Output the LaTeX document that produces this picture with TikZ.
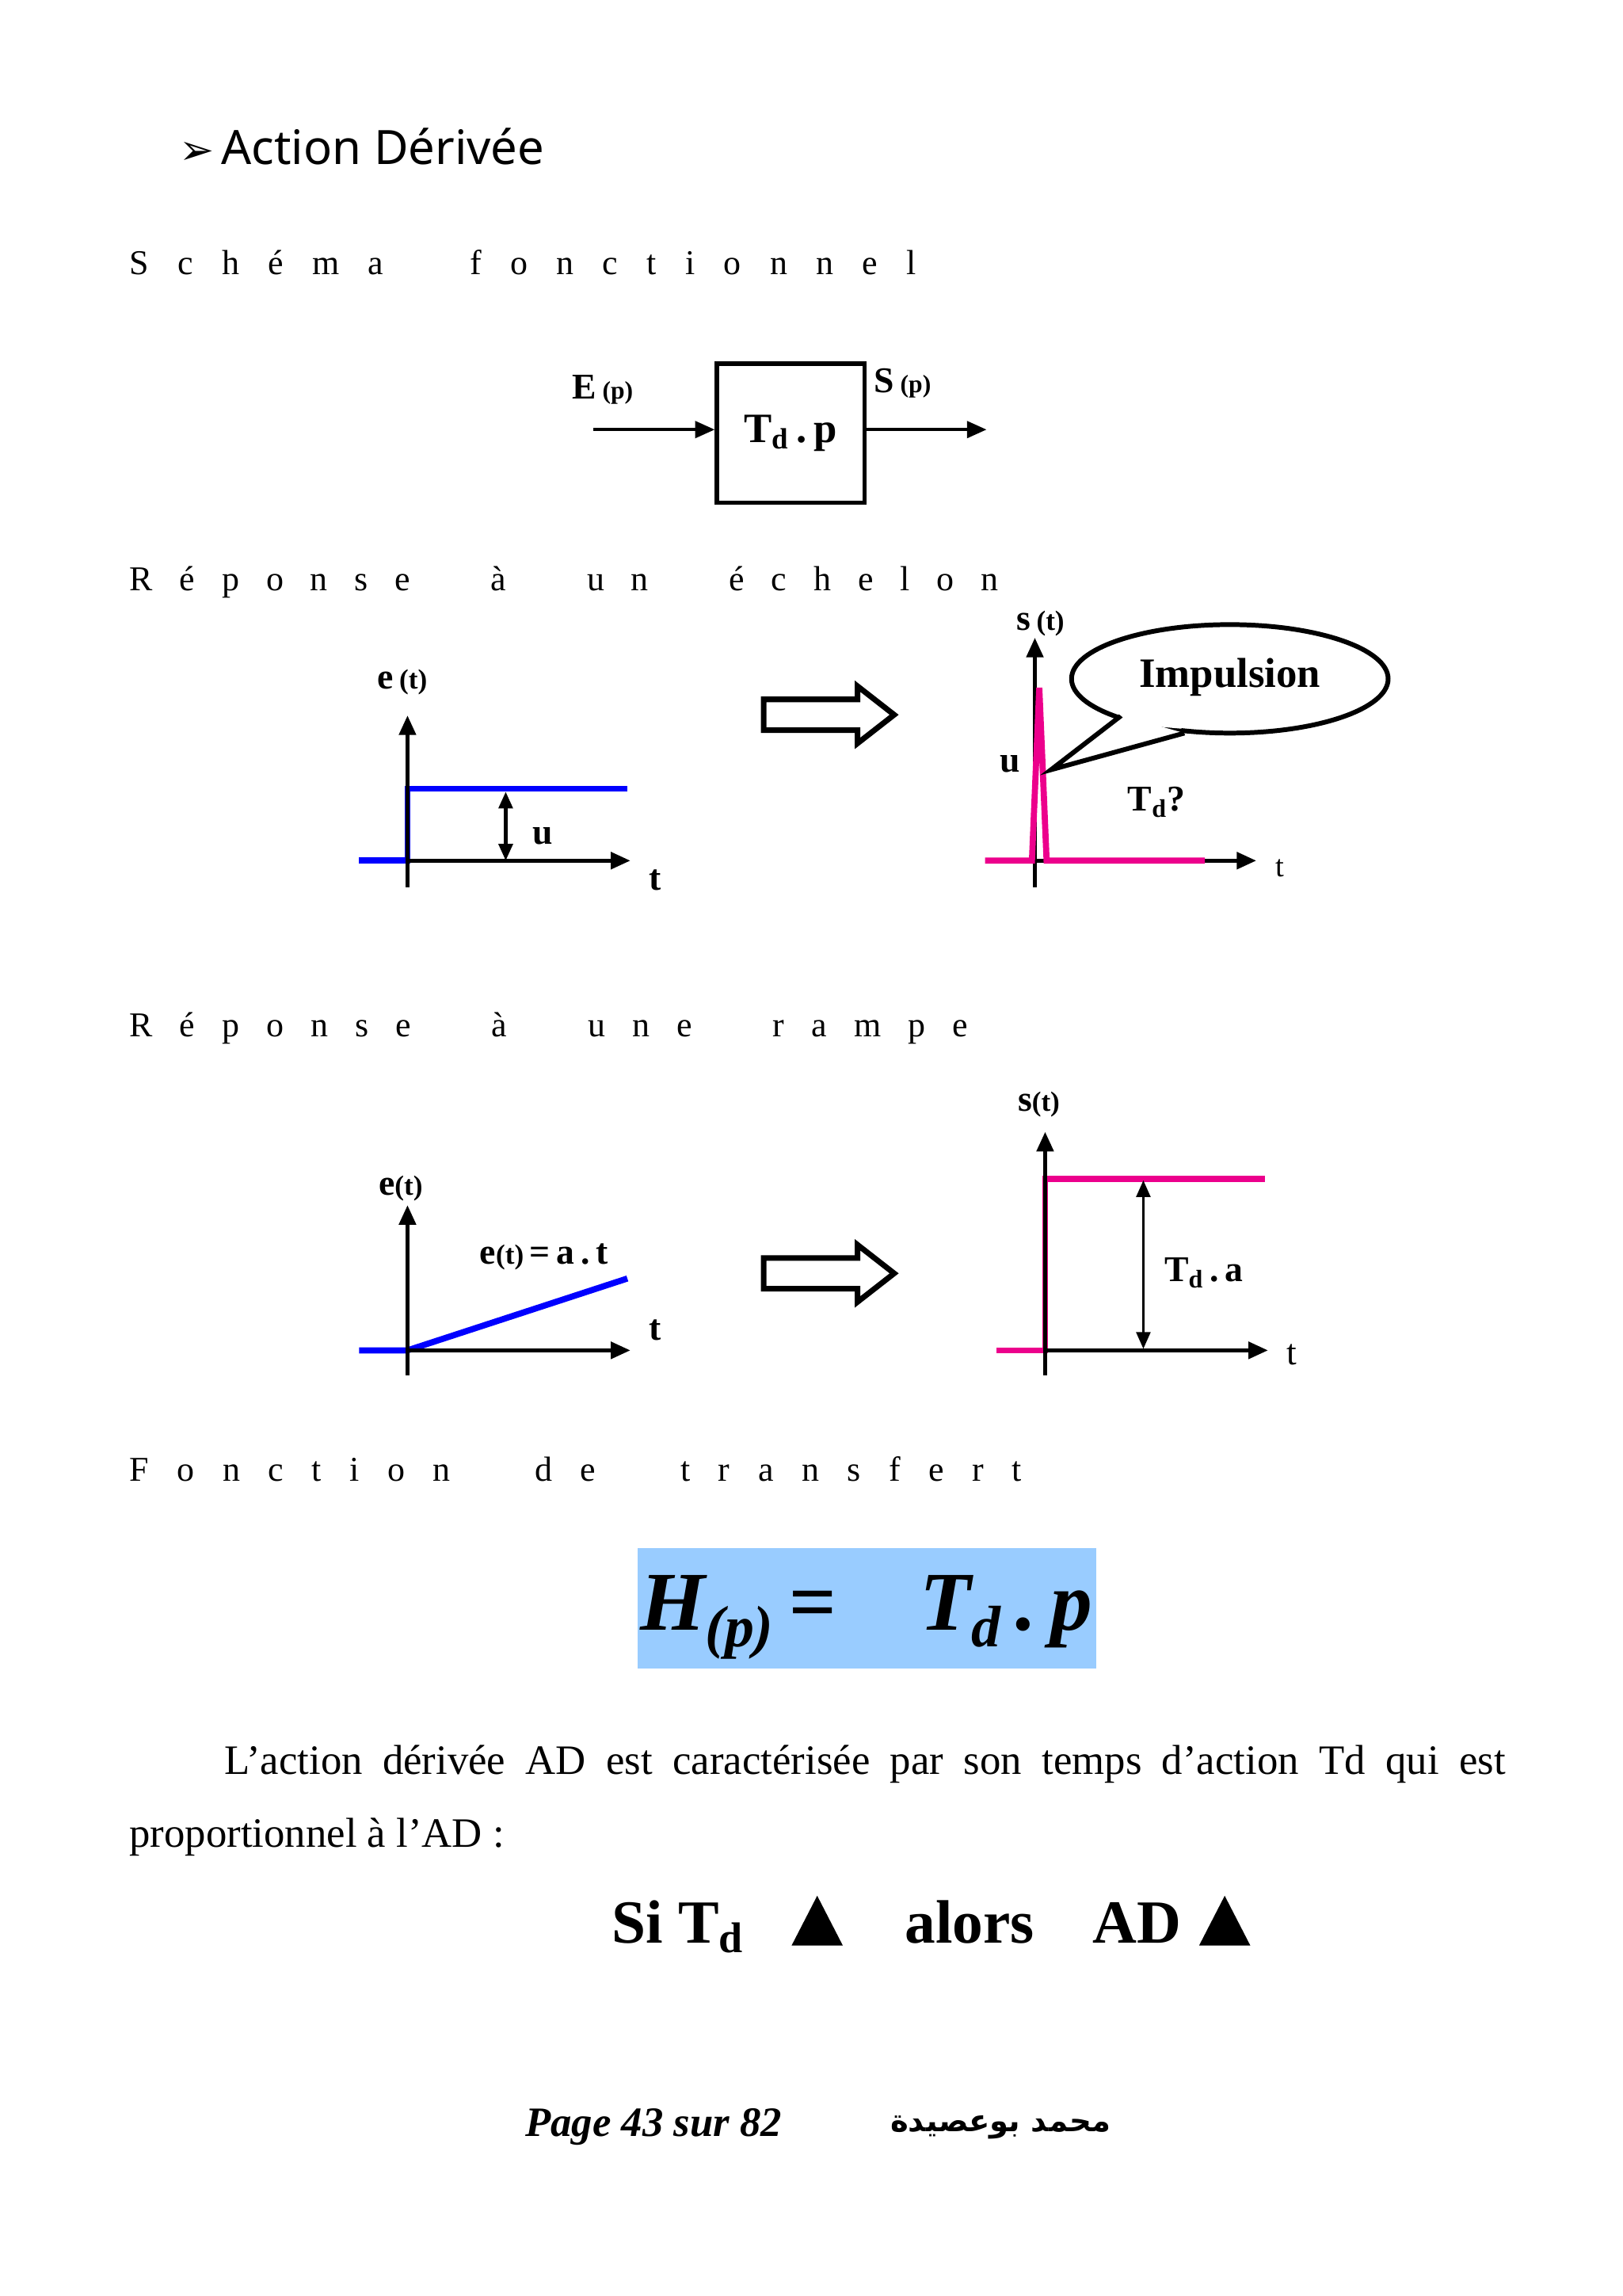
\documentclass[tikz,border=0pt]{standalone}
\usepackage{fontspec}
\setmainfont{Liberation Serif}
\newfontfamily\titlef{Noto Sans}
\newfontfamily\symf{DejaVu Sans}
\newfontfamily\arabf[Script=Arabic]{DejaVu Sans}
\usetikzlibrary{arrows.meta,shapes.geometric,shapes.callouts}
\newcommand{\sprd}[2]{\makebox[#1][s]{#2}}
\begin{document}
\begin{tikzpicture}[x=0.0185cm,y=-0.0185cm,
  ax/.style={line width=1.3pt,-{Triangle[length=7pt,width=6pt]}},
  blue1/.style={draw=blue,line width=2.2pt},
  mag/.style={draw=magenta,line width=2.2pt},
  lab/.style={font=\bfseries\fontsize{13}{13}\selectfont,inner sep=0pt},
  head/.style={anchor=base west,inner sep=0pt,font=\fontsize{12.5}{13}\selectfont},
  hol/.style={draw,line width=2pt,fill=white}]
\useasboundingbox (0,0) rectangle (1107,1566);
% title
\node[anchor=base west,inner sep=0pt] (tt) at (122,112) {{\symf\fontsize{15}{16}\selectfont ➢} {\titlef\bfseries\fontsize{17}{18}\selectfont Action Dérivée}};
% headings
\node[head] (h1) at (88,187) {\sprd{537\dimexpr0.526pt}{S\hfill c\hfill h\hfill é\hfill m\hfill a\hfill\hfill\hfill f\hfill o\hfill n\hfill c\hfill t\hfill i\hfill o\hfill n\hfill n\hfill e\hfill l}};
\node[head] (h2) at (88,403) {\sprd{593\dimexpr0.526pt}{R\hfill é\hfill p\hfill o\hfill n\hfill s\hfill e\hfill\hfill\hfill à\hfill\hfill\hfill u\hfill n\hfill\hfill\hfill é\hfill c\hfill h\hfill e\hfill l\hfill o\hfill n}};
\node[head] (h3) at (88,707) {\sprd{572\dimexpr0.526pt}{R\hfill é\hfill p\hfill o\hfill n\hfill s\hfill e\hfill\hfill\hfill à\hfill\hfill\hfill u\hfill n\hfill e\hfill\hfill\hfill r\hfill a\hfill m\hfill p\hfill e}};
\node[head] (h4) at (88,1010) {\sprd{609\dimexpr0.526pt}{F\hfill o\hfill n\hfill c\hfill t\hfill i\hfill o\hfill n\hfill\hfill\hfill d\hfill e\hfill\hfill\hfill t\hfill r\hfill a\hfill n\hfill s\hfill f\hfill e\hfill r\hfill t}};
% block diagram
\node[draw,line width=1.5pt,minimum width=101*0.0185cm,minimum height=95*0.0185cm,font=\bfseries\fontsize{15}{15}\selectfont] (blk) at (539.5,295.5) {T\textsubscript{d}\,.\,p};
\coordinate (in) at (405,293);
\coordinate (out) at (673,293);
\draw[ax,line width=1pt] (in) -- (in-|blk.west);
\draw[ax,line width=1pt] (blk.east|-out) -- (out);
\node[lab,anchor=base west] (E) at (390,272) {E\,{\fontsize{9}{9}\selectfont(p)}};
\node[lab,anchor=base west] (S) at (596,268) {S\,{\fontsize{9}{9}\selectfont(p)}};
% plot 1
\coordinate (o1) at (278,587);
\coordinate (y1b) at (278,605); \coordinate (y1t) at (278,488);
\coordinate (x1e) at (430,587);
\draw[blue1] (245,587) -- (278,587) -- (278,538) -- (428,538);
\draw[ax] (y1b) -- (y1t);
\draw[ax] (o1) -- (x1e);
\coordinate (u1a) at (345,540); \coordinate (u1b) at (345,587);
\draw[line width=1.2pt,{Triangle[length=6pt,width=5pt]}-{Triangle[length=6pt,width=5pt]}] (u1a) -- (u1b);
\node[lab] (u1) at (370,570) {u};
\node[lab] (t1) at (447,600) {t};
\node[lab,anchor=base west] (e1) at (257,470) {e\,{\fontsize{10}{10}\selectfont(t)}};
% hollow arrows
\draw[hol] (521,477) -- (585,477) -- (585,468) -- (610,487.5) -- (585,507) -- (585,498) -- (521,498) -- cycle;
\draw[hol] (521,858) -- (585,858) -- (585,849) -- (610,868.5) -- (585,888) -- (585,879) -- (521,879) -- cycle;
% plot 2
\draw[ax] (706,605) -- (706,435);
\draw[ax] (706,587) -- (857,587);
\draw[mag] (672,587) -- (704,587) -- (709,469) -- (714,587) -- (822,587);
\node[inner sep=0pt,font=\fontsize{11}{11}\selectfont] (t2) at (873,592) {t};
\node[lab,anchor=base west] (s2) at (693,430) {s\,{\fontsize{10}{10}\selectfont(t)}};
\node[lab] (u2) at (689,521) {u};
\node[lab,anchor=base west] (td2) at (769,553) {T\textsubscript{d}?};
\node[ellipse,draw,line width=1.7pt,minimum width=216*0.0185cm,minimum height=74*0.0185cm,fill=white] (ell) at (839,463) {};
\coordinate (tip) at (717,525);
\draw[line width=1.7pt,fill=white] (765,488) -- (tip) -- (808,500);
\fill[white] (762,486) -- (772,494) -- (806,497) -- (800,480) -- cycle;
\node[font=\bfseries\fontsize{15}{15}\selectfont,inner sep=0pt] (imp) at (839,462) {Impulsion};
% plot 3
\draw[blue1] (245,921) -- (278,921) -- (428,872);
\draw[ax] (278,938) -- (278,822);
\draw[ax] (278,921) -- (430,921);
\node[lab,anchor=base west] (e3) at (258,815) {e{\fontsize{10}{10}\selectfont(t)}};
\node[lab,anchor=base west] (eq3) at (327,862) {e{\fontsize{10}{10}\selectfont(t)}\,=\,a\,.\,t};
\node[lab] (t3) at (447,907) {t};
% plot 4
\draw[mag] (680,921) -- (713,921) -- (713,804) -- (863,804);
\draw[ax] (713,938) -- (713,772);
\draw[ax] (713,921) -- (865,921);
\draw[line width=1pt,{Triangle[length=6pt,width=5pt]}-{Triangle[length=6pt,width=5pt]}] (780,805) -- (780,920);
\node[lab,anchor=base west] (s4) at (694,758) {s{\fontsize{10}{10}\selectfont(t)}};
\node[lab,anchor=base west] (td4) at (794,874) {T\textsubscript{d}\,.\,a};
\node[inner sep=0pt,font=\fontsize{13}{13}\selectfont] (t4) at (881,924) {t};
% transfer function
\node[fill={rgb,255:red,153;green,204;blue,255},minimum width=313*0.0185cm,minimum height=82*0.0185cm,inner sep=0pt] (H) at (591.5,1097) {};
\node[anchor=base,inner sep=0pt,font=\bfseries\itshape\fontsize{30}{30}\selectfont] (Ht) at (591,1112) {H\textsubscript{(p)}\,=\quad T\textsubscript{d}\,.\,p};
% paragraph
\node[anchor=base west,inner sep=0pt,font=\fontsize{15}{16}\selectfont] (p1) at (153,1210) {\makebox[874\dimexpr0.526pt][s]{L’action dérivée AD est caractérisée par son temps d’action Td qui est}};
\node[anchor=base west,inner sep=0pt,font=\fontsize{15}{16}\selectfont] (p2) at (88,1260) {proportionnel à l’AD :};
% Si Td
\node[anchor=base west,inner sep=0pt,font=\bfseries\fontsize{22}{22}\selectfont] (si) at (417,1325) {Si T\textsubscript{d}};
\node[anchor=base west,inner sep=0pt,font=\bfseries\fontsize{22}{22}\selectfont] (al) at (617,1325) {alors};
\node[anchor=base west,inner sep=0pt,font=\bfseries\fontsize{22}{22}\selectfont] (ad) at (745,1325) {AD};
\fill (540,1327) -- (575,1327) -- (557.5,1293) -- cycle;
\fill (818,1327) -- (853,1327) -- (835.5,1293) -- cycle;
% footer
\node[anchor=base west,inner sep=0pt,font=\bfseries\itshape\fontsize{15}{15}\selectfont] (pg) at (358,1457) {Page 43 sur 82};
\node[anchor=base east,inner sep=0pt,font=\arabf\bfseries\fontsize{11}{11}\selectfont] (ar) at (758,1454) {\TeXXeTstate=1\beginR محمد بوعصيدة\endR};
\end{tikzpicture}
\end{document}
